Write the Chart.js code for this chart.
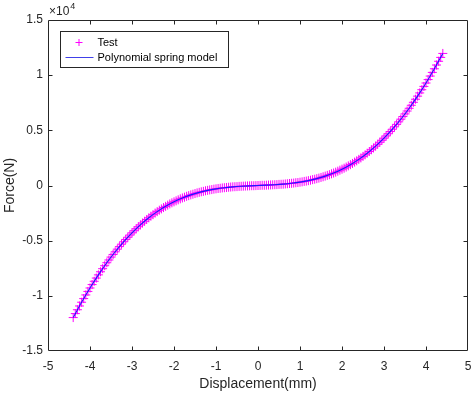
<!DOCTYPE html>
<html lang="en">
<head>
<meta charset="UTF-8">
<title>Force vs displacement</title>
<script src="https://cdn.jsdelivr.net/npm/chart.js@4"></script>
<style>
  html, body { margin: 0; padding: 0; background: #fff; }
  #wrap { width: 474px; height: 397px; }
</style>
</head>
<body>
<div id="wrap"><canvas id="chart" width="474" height="397"></canvas></div>
<script>
// measured points (mm, N)
const testDisp = [
  -4.40, -4.35, -4.30, -4.25, -4.20, -4.15, -4.10, -4.05, -4.00, -3.95, -3.90, -3.85, -3.80, -3.75, -3.70,
  -3.65, -3.60, -3.55, -3.50, -3.45, -3.40, -3.35, -3.30, -3.25, -3.20, -3.15, -3.10, -3.05, -3.00, -2.95,
  -2.90, -2.85, -2.80, -2.75, -2.70, -2.65, -2.60, -2.55, -2.50, -2.45, -2.40, -2.35, -2.30, -2.25, -2.20,
  -2.15, -2.10, -2.05, -2.00, -1.95, -1.90, -1.85, -1.80, -1.75, -1.70, -1.65, -1.60, -1.55, -1.50, -1.45,
  -1.40, -1.35, -1.30, -1.25, -1.20, -1.15, -1.10, -1.05, -1.00, -0.95, -0.90, -0.85, -0.80, -0.75, -0.70,
  -0.65, -0.60, -0.55, -0.50, -0.45, -0.40, -0.35, -0.30, -0.25, -0.20, -0.15, -0.10, -0.05, 0.00,
  0.05, 0.10, 0.15, 0.20, 0.25, 0.30, 0.35, 0.40, 0.45, 0.50, 0.55, 0.60, 0.65, 0.70, 0.75,
  0.80, 0.85, 0.90, 0.95, 1.00, 1.05, 1.10, 1.15, 1.20, 1.25, 1.30, 1.35, 1.40, 1.45, 1.50,
  1.55, 1.60, 1.65, 1.70, 1.75, 1.80, 1.85, 1.90, 1.95, 2.00, 2.05, 2.10, 2.15, 2.20, 2.25,
  2.30, 2.35, 2.40, 2.45, 2.50, 2.55, 2.60, 2.65, 2.70, 2.75, 2.80, 2.85, 2.90, 2.95, 3.00,
  3.05, 3.10, 3.15, 3.20, 3.25, 3.30, 3.35, 3.40, 3.45, 3.50, 3.55, 3.60, 3.65, 3.70, 3.75,
  3.80, 3.85, 3.90, 3.95, 4.00, 4.05, 4.10, 4.15, 4.20, 4.25, 4.30, 4.35, 4.40
];
const testForce = [
  -11970, -11610, -11260, -10920, -10580, -10250, -9920, -9600, -9290, -8980, -8680, -8390, -8100, -7820, -7540,
  -7270, -7000, -6750, -6490, -6250, -6010, -5770, -5540, -5320, -5100, -4890, -4690, -4490, -4290, -4100,
  -3920, -3740, -3570, -3400, -3240, -3080, -2930, -2780, -2640, -2500, -2370, -2240, -2120, -2000, -1890,
  -1780, -1670, -1570, -1480, -1390, -1300, -1210, -1130, -1060, -980, -920, -850, -790, -730, -670,
  -620, -570, -530, -480, -440, -400, -370, -330, -300, -270, -250, -220, -200, -180, -160,
  -140, -120, -110, -100, -80, -70, -60, -50, -40, -30, -20, -20, -10, 0,
  10, 20, 20, 30, 40, 50, 60, 70, 80, 100, 110, 120, 140, 160, 180,
  200, 220, 250, 270, 300, 330, 370, 400, 440, 480, 530, 570, 620, 670, 730,
  790, 850, 920, 980, 1060, 1130, 1210, 1300, 1390, 1480, 1570, 1670, 1780, 1890, 2000,
  2120, 2240, 2370, 2500, 2640, 2780, 2930, 3080, 3240, 3400, 3570, 3740, 3920, 4100, 4290,
  4490, 4690, 4890, 5100, 5320, 5540, 5770, 6010, 6250, 6490, 6750, 7000, 7270, 7540, 7820,
  8100, 8390, 8680, 8980, 9290, 9600, 9920, 10250, 10580, 10920, 11260, 11610, 11970
];

// fitted model (mm, N)
const modelDisp = [
  -4.4, -4.2, -4.0, -3.8, -3.6, -3.4, -3.2, -3.0, -2.8, -2.6, -2.4, -2.2, -2.0, -1.8, -1.6,
  -1.4, -1.2, -1.0, -0.8, -0.6, -0.4, -0.2, 0.0, 0.2, 0.4, 0.6, 0.8, 1.0, 1.2, 1.4,
  1.6, 1.8, 2.0, 2.2, 2.4, 2.6, 2.8, 3.0, 3.2, 3.4, 3.6, 3.8, 4.0, 4.2, 4.4
];
const modelForce = [
  -11967, -10580, -9290, -8099, -7005, -6007, -5103, -4290, -3566, -2927, -2369, -1887, -1477, -1133, -850,
  -621, -441, -302, -199, -124, -71, -32, 0, 32, 71, 124, 199, 302, 441, 621,
  850, 1133, 1477, 1887, 2369, 2927, 3566, 4290, 5103, 6007, 7005, 8099, 9290, 10580, 11967
];

const xTicks = [-5, -4, -3, -2, -1, 0, 1, 2, 3, 4, 5];
const yTicks = [-15000, -10000, -5000, 0, 5000, 10000, 15000];
const yExponent = 4;

const ink = '#262626';
Chart.defaults.font.family = '"Liberation Sans", Arial, sans-serif';
Chart.defaults.color = ink;

// box + inward ticks on all four sides, like MATLAB axes
const boxAxes = {
  id: 'boxAxes',
  afterDatasetsDraw(chart) {
    const { ctx, chartArea: a, scales: { x, y } } = chart;
    ctx.save();
    ctx.strokeStyle = ink;
    ctx.lineWidth = 1;
    ctx.beginPath();
    const L = Math.round(a.left) + 0.5, R = Math.round(a.right) - 0.5;
    const T = Math.round(a.top) + 0.5, B = Math.round(a.bottom) - 0.5;
    ctx.rect(L, T, R - L, B - T);
    xTicks.slice(1, -1).forEach(v => {
      const px = Math.round(x.getPixelForValue(v)) + 0.5;
      ctx.moveTo(px, B); ctx.lineTo(px, B - 4);
      ctx.moveTo(px, T); ctx.lineTo(px, T + 4);
    });
    yTicks.slice(1, -1).forEach(v => {
      const py = Math.round(y.getPixelForValue(v)) + 0.5;
      ctx.moveTo(L, py); ctx.lineTo(L + 4, py);
      ctx.moveTo(R, py); ctx.lineTo(R - 4, py);
    });
    ctx.stroke();

    // exponent label above the y axis
    ctx.fillStyle = ink;
    ctx.textBaseline = 'alphabetic';
    ctx.font = '12px "Liberation Sans", Arial, sans-serif';
    ctx.fillText('×10', a.left + 1, a.top - 5);
    const w = ctx.measureText('×10').width;
    ctx.font = '9px "Liberation Sans", Arial, sans-serif';
    ctx.fillText(String(yExponent), a.left + 1 + w + 1, a.top - 11);
    ctx.restore();
  },
  afterDraw(chart) {
    const { ctx, chartArea: a } = chart;
    const bx = Math.round(a.left) + 12.5, by = Math.round(a.top) + 11.5;
    ctx.save();
    ctx.fillStyle = '#fff';
    ctx.strokeStyle = ink;
    ctx.lineWidth = 1;
    ctx.fillRect(bx, by, 168, 36);
    ctx.strokeRect(bx, by, 168, 36);
    // Test marker
    ctx.strokeStyle = '#ff00ff';
    ctx.beginPath();
    ctx.moveTo(bx + 15, by + 11); ctx.lineTo(bx + 22, by + 11);
    ctx.moveTo(bx + 18.5, by + 7.5); ctx.lineTo(bx + 18.5, by + 14.5);
    ctx.stroke();
    // model line
    ctx.strokeStyle = '#4040e8';
    ctx.beginPath();
    ctx.moveTo(bx + 5, by + 26); ctx.lineTo(bx + 33, by + 26);
    ctx.stroke();
    ctx.fillStyle = '#000';
    ctx.font = '11px "Liberation Sans", Arial, sans-serif';
    ctx.textBaseline = 'middle';
    ctx.fillText('Test', bx + 37, by + 11);
    ctx.fillText('Polynomial spring model', bx + 37, by + 26);
    ctx.restore();
  }
};

new Chart(document.getElementById('chart'), {
  type: 'scatter',
  data: {
    datasets: [
      {
        label: 'Polynomial spring model',
        data: modelDisp.map((d, i) => ({ x: d, y: modelForce[i] })),
        showLine: true,
        borderColor: '#1a1aff',
        borderWidth: 1.1,
        pointRadius: 0,
        cubicInterpolationMode: 'monotone',
        order: 0
      },
      {
        label: 'Test',
        data: testDisp.map((d, i) => ({ x: d, y: testForce[i] })),
        showLine: false,
        pointStyle: 'cross',
        pointRadius: 4.5,
        borderColor: '#ff00ff',
        borderWidth: 1,
        order: 1
      }
    ]
  },
  options: {
    responsive: false,
    animation: false,
    devicePixelRatio: 1,
    layout: { padding: { left: 0, right: 0, top: 20, bottom: 0 } },
    plugins: { legend: { display: false }, tooltip: { enabled: false } },
    scales: {
      x: {
        type: 'linear',
        min: -5, max: 5,
        afterBuildTicks: s => { s.ticks = xTicks.map(v => ({ value: v })); },
        afterFit: s => { s.height = 46; s.paddingLeft = 0; s.paddingRight = 6; },
        grid: { display: false, drawTicks: false },
        border: { display: false },
        ticks: { padding: 8, font: { size: 12 }, color: ink, maxRotation: 0 },
        title: { display: true, text: 'Displacement(mm)', font: { size: 14 }, color: ink, padding: { top: 0, bottom: 4 } }
      },
      y: {
        type: 'linear',
        min: -15000, max: 15000,
        afterBuildTicks: s => { s.ticks = yTicks.map(v => ({ value: v })); },
        afterFit: s => { s.width = 48; },
        grid: { display: false, drawTicks: false },
        border: { display: false },
        ticks: { padding: 5, font: { size: 12 }, color: ink, callback: v => String(v / 10000) },
        title: { display: true, text: 'Force(N)', font: { size: 14 }, color: ink, padding: { top: 2, bottom: 0 } }
      }
    }
  },
  plugins: [boxAxes]
});
</script>
</body>
</html>
